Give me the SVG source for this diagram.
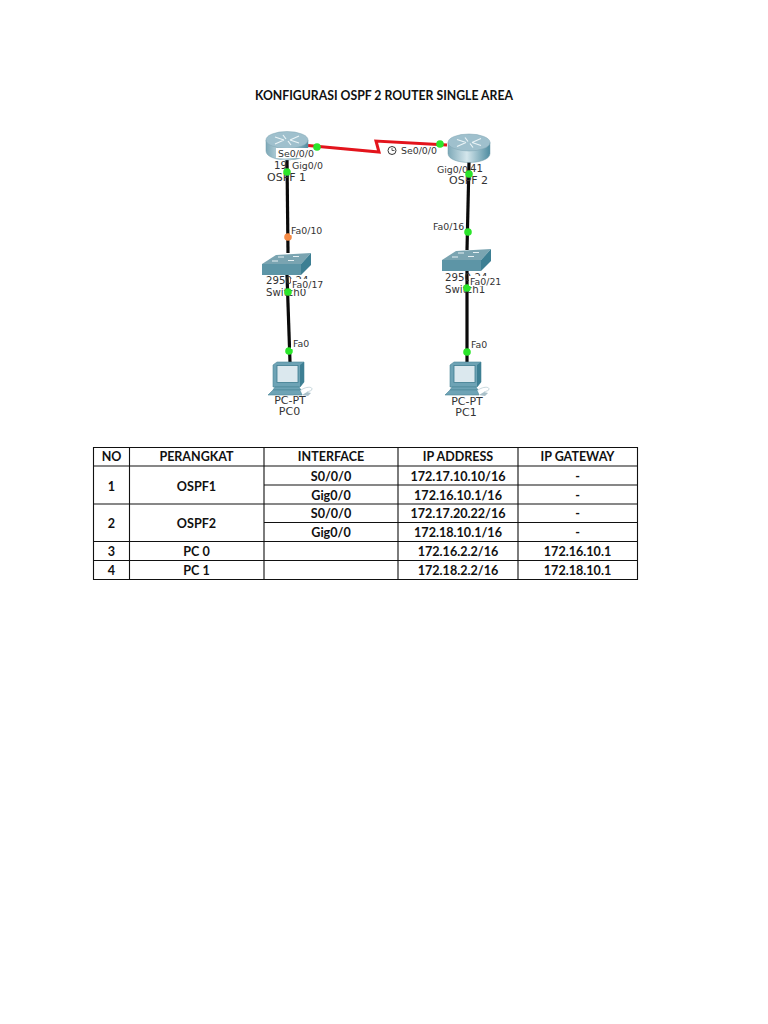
<svg xmlns="http://www.w3.org/2000/svg" width="768" height="1024" viewBox="0 0 768 1024">
<style>
.t{font-family:"Lato","Open Sans","Liberation Sans",sans-serif;font-weight:700;font-size:12.6px;fill:#111;text-anchor:middle}
.h{font-size:12.5px}
.g{stroke:#111;stroke-width:1.1;fill:none}
.l{font-family:"DejaVu Sans","Liberation Sans",sans-serif;font-size:11px;fill:#333}
.s{font-size:9.4px}
.n{font-size:10.200px}
.eth{stroke:#0a0a0a;stroke-width:3.2;fill:none}
.dot{fill:#2be52b}
.bg{fill:#fff}
.rim{fill:url(#rb);stroke:#6f9aa8;stroke-width:.5}
.top{fill:#9fc0cd;stroke:#7fa5b2;stroke-width:.5}
.ar{stroke:#eaf3f6;stroke-width:1.2;fill:none}
.sw{fill:#5d95a6}
.swt{fill:#7aa4b1}
.sws{fill:#3d7f93}
.mon{fill:#6ea3b5;stroke:#4c8699;stroke-width:.6}
.scr{fill:#dbe8ee;stroke:#3e7c90;stroke-width:.8}
</style>
<defs>
<linearGradient id="rb" x1="0" x2="1" y1="0" y2="0"><stop offset="0" stop-color="#7ea9b8"/><stop offset=".45" stop-color="#d4e6ec"/><stop offset="1" stop-color="#4f8ca0"/></linearGradient>
<g id="router"><path class="rim" d="M-21,-5V6C-21,12 -10,15 0,15C10,15 21,12 21,6V-5Z"/><ellipse class="top" cx="0" cy="-5" rx="21" ry="8.500"/><path class="ar" d="M-12,-8L-3,-5M12,-2L3,-5M-4,-10L-1,-6M4,0L1,-4M12,-9L3,-5M-12,-1L-3,-5"/></g>
<g id="switch"><path class="sw" d="M0,11H39V22H0Z"/><path class="swt" d="M0,11L14,2L49,0L39,11Z"/><path class="sws" d="M39,11L49,0V12L39,22Z"/><path d="M16,4h6M31,3.500h6M10,8h6M26,7.500h6" stroke="#e6f0f3" stroke-width="1.200"/></g>
<g id="pc"><path class="mon" d="M3,3L7,0H34V20L30,25H3Z"/><path class="sws" d="M30,3L34,0V20L30,25Z"/><rect class="scr" x="7" y="3.500" width="21" height="17"/><path class="mon" d="M5,25H29L31,28H3Z"/><path class="mon" d="M-2,33L3,28H30L32,33Z"/><path d="M30,29C34,25 42,24 42,27C42,29 39,29 37,30" stroke="#b9ccd3" fill="none" stroke-width=".8"/><path d="M32,33L37,30L41,31L38,34Z" fill="#a9c0c9"/></g>
</defs>
<rect width="768" height="1024" fill="#fff"/>
<text id="title" x="384" y="100" class="t" style="font-size:13.2px" textLength="258" lengthAdjust="spacingAndGlyphs">KONFIGURASI OSPF 2 ROUTER SINGLE AREA</text>

<g id="connectors">
<path d="M308,145.500L379,152L376,141L447,145" stroke="#e3141c" stroke-width="3" fill="none"/>
<path class="eth" d="M287,160L288,253"/>
<path class="eth" d="M287,275L290,362"/>
<path class="eth" d="M469,162L467,250"/>
<path class="eth" d="M467,271L467,364"/>
</g>

<g id="OSPF1"><use href="#router" x="287" y="145"/><rect class="bg" x="276" y="148" width="40" height="10"/><rect class="bg" x="273" y="160" width="11" height="9"/><rect class="bg" x="291" y="160" width="30" height="10"/>
<text class="l s" x="278" y="156.500">Se0/0/0</text><text class="l n" x="274" y="168.500">19</text><text class="l s" x="292" y="169">Gig0/0</text><text class="l" x="267" y="181">OSPF 1</text></g>
<g id="OSPF2"><use href="#router" x="469" y="147.500"/><rect class="bg" x="436" y="163" width="30" height="11"/>
<text class="l s" x="437" y="172.500">Gig0/0</text><text class="l n" x="470" y="172">41</text><text class="l" x="449" y="184">OSPF 2</text></g>
<g id="Switch0"><use href="#switch" x="262" y="253"/><text class="l n" x="266" y="284">2950-24</text><text class="l n" x="266" y="296">Switch0</text></g>
<g id="Switch1"><use href="#switch" x="442" y="249"/><text class="l n" x="445" y="281">2950-24</text><text class="l n" x="445" y="293">Switch1</text></g>
<g id="PC0"><use href="#pc" x="270" y="362"/><text class="l" x="290" y="404" text-anchor="middle">PC-PT</text><text class="l" x="289.500" y="415" text-anchor="middle">PC0</text></g>
<g id="PC1"><use href="#pc" x="447" y="362"/><text class="l" x="467" y="405" text-anchor="middle">PC-PT</text><text class="l" x="466" y="416" text-anchor="middle">PC1</text></g>

<g id="ports">
<circle class="dot" cx="317" cy="147" r="3.800"/><circle class="dot" cx="440" cy="144" r="3.800"/>
<circle class="dot" cx="287" cy="172" r="3.800"/><circle cx="288" cy="237" r="3.800" fill="#f58a45"/>
<circle class="dot" cx="469" cy="174" r="3.800"/><circle class="dot" cx="468" cy="232" r="3.800"/>
<circle class="dot" cx="288" cy="292" r="3.800"/><circle class="dot" cx="289" cy="351" r="3.800"/>
<circle class="dot" cx="467" cy="288" r="3.800"/><circle class="dot" cx="467" cy="352" r="3.800"/>
<rect class="bg" x="290" y="226" width="34" height="9"/><rect class="bg" x="291" y="279" width="34" height="10"/><rect class="bg" x="469" y="276" width="34" height="10"/>
<rect class="bg" x="291" y="339" width="20" height="10"/><rect class="bg" x="470" y="340" width="20" height="10"/>
<text class="l s" x="291" y="233.500">Fa0/10</text><text class="l s" x="433" y="230">Fa0/16</text>
<text class="l s" x="292" y="288">Fa0/17</text><text class="l s" x="470" y="285">Fa0/21</text>
<text class="l s" x="293" y="347">Fa0</text><text class="l s" x="471" y="348">Fa0</text>
<text class="l s" x="401" y="154">Se0/0/0</text>
<circle cx="392" cy="150.500" r="4" fill="#fff" stroke="#333" stroke-width="1"/><path d="M392,148V150.500H394.500" stroke="#333" fill="none" stroke-width=".8"/>
</g>

<g id="table">
<path class="g" d="M93.500,447.500H637.500V579.500H93.500ZM93.500,466H637.500M264,485H637.500M93.500,504H637.500M264,522.500H637.500M93.500,541.500H637.500M93.500,560.500H637.500M129.500,447.500V579.500M264,447.500V579.500M398,447.500V579.500M518,447.500V579.500"/>
<g class="hdr"><text class="t h" x="111.500" y="461">NO</text><text class="t h" x="196.500" y="461">PERANGKAT</text><text class="t h" x="331" y="461">INTERFACE</text><text class="t h" x="458" y="461">IP ADDRESS</text><text class="t h" x="577.500" y="461">IP GATEWAY</text></g>
<text class="t" x="111.500" y="490.500">1</text><text class="t" x="196.500" y="490.500">OSPF1</text>
<text class="t" x="331" y="480.500">S0/0/0</text><text class="t" x="458" y="480.500">172.17.10.10/16</text><text class="t" x="577.500" y="480.500">-</text>
<text class="t" x="331" y="499.500">Gig0/0</text><text class="t" x="458" y="499.500">172.16.10.1/16</text><text class="t" x="577.500" y="499.500">-</text>
<text class="t" x="111.500" y="527.500">2</text><text class="t" x="196.500" y="527.500">OSPF2</text>
<text class="t" x="331" y="517.500">S0/0/0</text><text class="t" x="458" y="517.500">172.17.20.22/16</text><text class="t" x="577.500" y="517.500">-</text>
<text class="t" x="331" y="536.500">Gig0/0</text><text class="t" x="458" y="536.500">172.18.10.1/16</text><text class="t" x="577.500" y="536.500">-</text>
<text class="t" x="111.500" y="555.500">3</text><text class="t" x="196.500" y="555.500">PC 0</text><text class="t" x="458" y="555.500">172.16.2.2/16</text><text class="t" x="577.500" y="555.500">172.16.10.1</text>
<text class="t" x="111.500" y="574.500">4</text><text class="t" x="196.500" y="574.500">PC 1</text><text class="t" x="458" y="574.500">172.18.2.2/16</text><text class="t" x="577.500" y="574.500">172.18.10.1</text>
</g>
</svg>
